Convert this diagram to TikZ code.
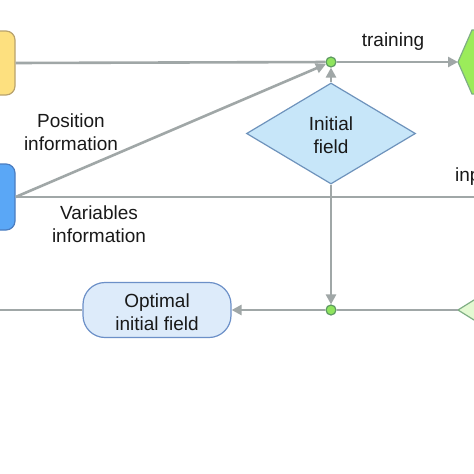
\documentclass[tikz,border=0pt]{standalone}
\usepackage{fontspec}
\setmainfont{Liberation Sans}
\usetikzlibrary{arrows.meta,shapes.geometric}
\definecolor{ln}{HTML}{A0A7A7}
\definecolor{ylfill}{HTML}{FDE07F}
\definecolor{yldraw}{HTML}{B9A36E}
\definecolor{blfill}{HTML}{5AA7F6}
\definecolor{bldraw}{HTML}{4B7DC0}
\definecolor{dmfill}{HTML}{C7E6F9}
\definecolor{dmdraw}{HTML}{6E93BC}
\definecolor{opfill}{HTML}{DDEBFA}
\definecolor{opdraw}{HTML}{6C90C8}
\definecolor{dotfill}{HTML}{8FE45E}
\definecolor{dotdraw}{HTML}{5E9A62}
\definecolor{hexfill}{HTML}{9BEC5A}
\definecolor{hexdraw}{HTML}{7FAE84}
\definecolor{hexlight}{HTML}{E3F9D2}
\begin{document}
\begin{tikzpicture}[x=1pt,y=-1pt,
  lbl/.style={font=\fontsize{19}{23}\selectfont, text=black!90, align=center, inner sep=0pt},
  conn/.style={draw=ln, line width=2.6pt},
  arr/.style={conn, -{Triangle[length=10pt,width=10pt]}},
  dot/.style={circle, draw=dotdraw, fill=dotfill, line width=1.2pt, minimum size=10pt, inner sep=0pt},
  sidebox/.style={rounded corners=9pt, line width=1.2pt, minimum width=40pt, minimum height=64pt, inner sep=0pt}]
\useasboundingbox (0,0) rectangle (474,474);
\fill[white] (0,0) rectangle (474,474);
\clip (0,0) rectangle (474,474);

% left boxes
\node[sidebox, draw=yldraw, fill=ylfill] (yb) at (-5,63) {};
\node[sidebox, draw=bldraw, fill=blfill, minimum height=66pt] (bb) at (-5,197) {};

% right shapes
\draw[draw=hexdraw, fill=hexfill, line width=1.2pt] (458,62) -- (472,30) -- (520,30) -- (534,62) -- (520,94) -- (472,94) -- cycle;
\coordinate (gh) at (458,62);
\draw[draw=hexdraw, fill=hexlight, line width=1.2pt] (458,310) -- (490,290) -- (560,290) -- (592,310) -- (560,330) -- (490,330) -- cycle;
\coordinate (lh) at (458,310);

% diamond
\node[diamond, draw=dmdraw, fill=dmfill, line width=1.2pt, aspect=1.67, minimum width=169pt, minimum height=101pt, inner sep=0pt] (dm) at (331,133.5) {};
\node[lbl] (dmt) at (331,135) {Initial\\field};

% optimal box
\node[draw=opdraw, fill=opfill, line width=1.2pt, rounded corners=22pt, minimum width=148pt, minimum height=55pt, inner sep=0pt] (op) at (157,310) {};
\node[lbl] (opt) at (157,312) {Optimal\\initial field};

% dots
\node[dot] (d1) at (331,62) {};
\node[dot] (d2) at (331,310) {};

\coordinate (re) at (480,197);
\coordinate (le) at (-5,310);

% connectors
\draw[conn] (yb.east) -- (d1);
\draw[arr] (bb.east |- 0,197) -- (d1);
\draw[conn] (bb.east |- 0,197) -- (re);
\draw[arr] (dm.north) -- (d1);
\draw[arr] (d1) -- (gh);
\draw[arr] (dm.south) -- (d2);
\draw[conn] (lh) -- (d2);
\draw[arr] (d2) -- (op);
\draw[conn] (op) -- (le);

% labels
\node[lbl] (tr) at (393,42) {training};
\node[lbl] (pi) at (71,132) {Position\\information};
\node[lbl] (vi) at (99,224) {Variables\\information};
\node[lbl, anchor=west] (inp) at (455,177) {input};
\end{tikzpicture}
\end{document}
